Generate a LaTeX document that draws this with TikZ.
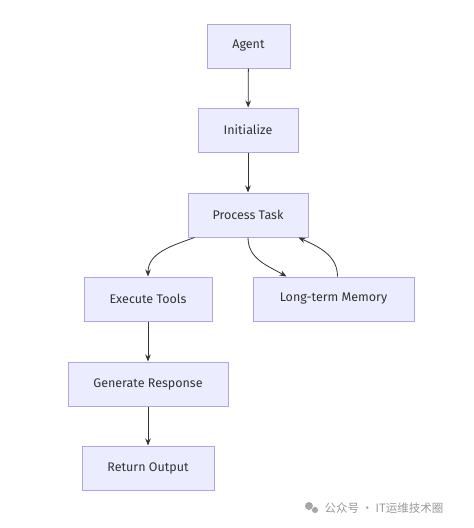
\documentclass[tikz,border=0pt]{standalone}
\usepackage{fontspec}
\setmainfont{Fira Sans}
\newfontfamily\cjk{Noto Sans CJK SC}
\usetikzlibrary{arrows.meta}
\definecolor{boxfill}{HTML}{ECECFF}
\definecolor{boxline}{HTML}{B3A3E8}
\definecolor{ink}{HTML}{333333}
\begin{document}
\begin{tikzpicture}[
  x=1pt, y=-1pt,
  step box/.style={draw=boxline, fill=boxfill, line width=1pt,
              minimum height=44pt, inner xsep=0pt, text=ink,
              font=\fontsize{12.5}{14}\selectfont},
  flow/.style={-{Stealth[length=7pt,width=5.5pt]}, draw=ink, line width=0.8pt},
]
  \useasboundingbox[fill=white] (0,0) rectangle (474,528);
  \node[step box, minimum width=83pt] (agent) at (248.5,46) {Agent};
  \node[step box, minimum width=100pt] (init) at (248,130) {Initialize};
  \node[step box, minimum width=120pt] (task) at (248,215) {Process Task};
  \node[step box, minimum width=128pt] (tools) at (148,299) {Execute Tools};
  \node[step box, minimum width=161pt] (mem) at (333.5,299) {Long-term Memory};
  \node[step box, minimum width=160pt] (resp) at (148,384) {Generate Response};
  \node[step box, minimum width=132pt] (out) at (148,468) {Return Output};
  \draw[flow] (agent) -- (init);
  \draw[flow] (init) -- (task);
  \draw[flow] ([xshift=7pt]task.south west) to[out=-160, in=90] (tools.north);
  \draw[flow] (task.south) to[out=-90, in=150] ([xshift=34pt]mem.north west);
  \draw[flow] ([xshift=4pt]mem.north) to[out=90, in=-25] ([xshift=-10pt]task.south east);
  \draw[flow] (tools) -- (resp);
  \draw[flow] (resp) -- (out);
  % watermark
  \node[fill=black!35, circle, minimum size=8pt, inner sep=0pt] (wa) at (309,506) {};
  \node[fill=black!35, draw=white, line width=0.6pt, circle, minimum size=7pt, inner sep=0pt] (wb) at (315,510) {};
  \node[anchor=west, text=black!40, font=\cjk\fontsize{11.5}{13}\selectfont] (mark) at (321,508) {公众号 · IT运维技术圈};
\end{tikzpicture}
\end{document}
